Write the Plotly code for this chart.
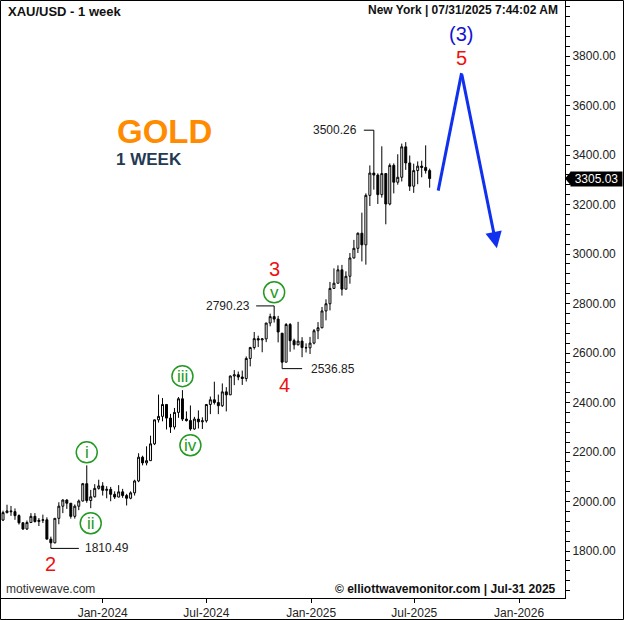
import plotly.graph_objects as go
import pandas as pd

# ---------------- data ----------------
first_week = "2023-07-10"
opens = [1925, 1955, 1962, 1959, 1943, 1914, 1889, 1915, 1940, 1919, 1924, 1926, 1848, 1833, 1932, 1981, 2006, 1993, 1940, 1981, 2002, 2072, 2004, 2019, 2053,
         2063, 2045, 2049, 2029, 2018, 2039, 2024, 2013, 2035, 2083, 2179, 2156, 2165, 2233, 2330, 2344, 2392, 2337, 2301, 2360, 2415, 2333, 2327, 2293, 2333, 2322, 2326,
         2392, 2411, 2400, 2387, 2443, 2431, 2507, 2512, 2503, 2497, 2578, 2622, 2658, 2653, 2657, 2721, 2747, 2737, 2680, 2563, 2715, 2650, 2633, 2648, 2622, 2621,
         2640, 2690, 2702, 2770, 2799, 2861, 2882, 2936, 2858, 2910, 2984, 3023, 3084, 3037, 3237, 3327, 3319, 3240, 3325, 3202, 3358, 3290, 3310, 3433, 3368, 3274,
         3337, 3355, 3350, 3337]
highs = [1963, 1987, 1982, 1972, 1948, 1916, 1923, 1953, 1953, 1933, 1947, 1936, 1858, 1933, 1997, 2009, 2009, 1993, 1988, 2008, 2075, 2146, 2047, 2070, 2088,
         2078, 2062, 2059, 2041, 2066, 2051, 2031, 2041, 2088, 2195, 2185, 2223, 2266, 2331, 2432, 2418, 2392, 2354, 2378, 2422, 2450, 2364, 2388, 2342, 2368, 2340,
         2393, 2424, 2484, 2432, 2477, 2462, 2509, 2531, 2525, 2529, 2586, 2625, 2685, 2670, 2660, 2722, 2759, 2790.23, 2750, 2681, 2721, 2721, 2658, 2726, 2664, 2639, 2665,
         2697, 2725, 2786, 2817, 2887, 2942, 2954, 2956, 2930, 3004, 3057, 3087, 3167, 3245, 3358, 3500.26, 3326, 3435, 3326, 3366, 3366, 3403, 3446, 3452, 3398, 3365,
         3374, 3377, 3439, 3345]
lows = [1921, 1952, 1942, 1926, 1907, 1885, 1885, 1913, 1915, 1901, 1913, 1846, 1810.49, 1831, 1908, 1953, 1970, 1931, 1931, 1965, 2000, 1995, 1973, 2016, 2048,
        2024, 2013, 2001, 2010, 2017, 2015, 1984, 2009, 2024, 2078, 2146, 2146, 2164, 2228, 2319, 2324, 2291, 2277, 2291, 2338, 2325, 2323, 2286, 2290, 2295, 2293,
        2319, 2353, 2392, 2353, 2382, 2364, 2430, 2470, 2490, 2471, 2485, 2546, 2614, 2624, 2603, 2644, 2708, 2723, 2643, 2536.85, 2563, 2605, 2614, 2631, 2583, 2602, 2596,
        2635, 2656, 2700, 2732, 2772, 2860, 2881, 2832, 2857, 2880, 2982, 3004, 2970, 2957, 3194, 3260, 3202, 3228, 3120, 3197, 3245, 3280, 3293, 3340, 3255, 3247,
        3282, 3310, 3325, 3268]
closes = [1955, 1962, 1959, 1943, 1914, 1889, 1915, 1940, 1919, 1924, 1926, 1848, 1833, 1932, 1981, 2006, 1993, 1940, 1981, 2002, 2072, 2004, 2019, 2053, 2063,
          2045, 2049, 2029, 2018, 2039, 2024, 2013, 2035, 2083, 2179, 2156, 2165, 2233, 2330, 2344, 2392, 2337, 2301, 2360, 2415, 2333, 2327, 2293, 2333, 2322, 2326,
          2392, 2411, 2400, 2387, 2443, 2431, 2507, 2512, 2503, 2497, 2578, 2622, 2658, 2653, 2657, 2721, 2747, 2737, 2685, 2563, 2715, 2650, 2633, 2648, 2622, 2621, 2640,
          2690, 2702, 2770, 2799, 2861, 2882, 2936, 2858, 2910, 2984, 3023, 3084, 3037, 3237, 3327, 3319, 3240, 3325, 3202, 3358, 3290, 3310, 3433, 3368, 3274, 3337,
          3355, 3350, 3337, 3305.03]
dates = pd.date_range(first_week, periods=len(closes), freq="7D")

# Elliott wave pivots (date, price)
wave_dates = ["2023-10-02", "2023-12-04", "2023-12-11", "2024-05-20", "2024-06-03", "2024-10-28", "2024-11-11"]
wave_prices = [1810.49, 2146, 1973, 2450, 2286, 2790.23, 2536.85]

# projected path
fc_dates = ["2025-08-12", "2025-09-22", "2025-11-23"]
fc_prices = [3256, 3731, 3023]

# swing price labels
swing_dates = ["2023-10-02", "2024-10-28", "2024-11-11", "2025-04-21"]
swing_prices = [1810.49, 2790.23, 2536.85, 3500.26]

# ---------------- styles ----------------
FONT = "Liberation Sans, Arial, sans-serif"
RED = "#ee1111"
GREEN = "#229922"
BLUE = "#1030f0"
BLUE_TXT = "#1212d8"
PW, PH = 565.0, 598.0  # plot area pixels


def px(xp):
    return xp / PW


def py(yp):
    return (PH - yp) / PH


fig = go.Figure()
fig.add_trace(go.Candlestick(
    x=dates, open=opens, high=highs, low=lows, close=closes,
    increasing=dict(line=dict(color="black", width=1), fillcolor="white"),
    decreasing=dict(line=dict(color="black", width=1), fillcolor="black"),
    whiskerwidth=0, showlegend=False, hoverinfo="skip"))

fig.add_trace(go.Scatter(x=fc_dates[:2], y=fc_prices[:2], mode="lines",
                         line=dict(color=BLUE, width=3), showlegend=False, hoverinfo="skip"))

shapes = []
annotations = []

# arrowhead segment
annotations.append(dict(x=fc_dates[2], y=fc_prices[2], ax=fc_dates[1], ay=fc_prices[1],
                        xref="x", yref="y", axref="x", ayref="y", text="", showarrow=True,
                        arrowhead=2, arrowsize=1.1, arrowwidth=3, arrowcolor=BLUE, standoff=0, startstandoff=0))

# red / blue wave labels: (text, date, price, dx, dy, color)
label_specs = [
    ("2", wave_dates[0], wave_prices[0], 0, -16, RED),
    ("3", wave_dates[5], wave_prices[5], 0, 37, RED),
    ("4", wave_dates[6], wave_prices[6], 2, -16.5, RED),
    ("5", fc_dates[1], fc_prices[1], 0, 15, RED),
    ("(3)", fc_dates[1], fc_prices[1], -1, 39, BLUE_TXT),
]
for t, d, p, dx, dy, c in label_specs:
    annotations.append(dict(x=d, y=p, xref="x", yref="y", text=t, showarrow=False,
                            xshift=dx, yshift=dy, font=dict(family=FONT, size=20, color=c)))

# green circled sub-waves
circ_specs = [
    ("i", 1, 0, 13),
    ("ii", 2, 0, -15),
    ("iii", 3, 0, 14),
    ("iv", 4, 0, -14.5),
    ("v", 5, 0, 13.6),
]
R = 10.5
for t, i, dx, dy in circ_specs:
    shapes.append(dict(type="circle", xref="x", yref="y", xsizemode="pixel", ysizemode="pixel",
                       xanchor=wave_dates[i], yanchor=wave_prices[i],
                       x0=dx - R, x1=dx + R, y0=dy - R, y1=dy + R,
                       line=dict(color=GREEN, width=1.5), fillcolor="white", layer="above"))
    annotations.append(dict(x=wave_dates[i], y=wave_prices[i], xref="x", yref="y", text=t,
                            showarrow=False, xshift=dx, yshift=dy,
                            font=dict(family=FONT, size=17, color=GREEN)))

# swing price labels with connector lines: (line x0, x1, text shift, anchor)
swing_style = [(0, 28, 32, "left"), (-18, 0, -22, "right"), (0, 20, 27, "left"), (-10, 0, -15, "right")]
for d, p, (x0, x1, sh, anc) in zip(swing_dates, swing_prices, swing_style):
    shapes.append(dict(type="line", xref="x", yref="y", xsizemode="pixel", xanchor=d,
                       x0=x0, x1=x1, y0=p, y1=p, line=dict(color="black", width=1)))
    annotations.append(dict(x=d, y=p, xref="x", yref="y", text=f"{p:.2f}", showarrow=False,
                            xanchor=anc, xshift=sh, font=dict(family=FONT, size=12, color="#222")))

# GOLD / 1 WEEK
annotations.append(dict(xref="paper", yref="paper", x=px(115), y=py(132), xanchor="left", yanchor="middle",
                        text="<b>GOLD</b>", showarrow=False, font=dict(family=FONT, size=33, color="#ff8c00")))
annotations.append(dict(xref="paper", yref="paper", x=px(114), y=py(159), xanchor="left", yanchor="middle",
                        text="<b>1 WEEK</b>", showarrow=False, font=dict(family=FONT, size=17, color="#243a52")))

# header / footer
annotations.append(dict(xref="paper", yref="paper", x=px(6), y=py(12), xanchor="left", yanchor="middle",
                        text="<b>XAU/USD - 1 week</b>", showarrow=False, font=dict(family=FONT, size=13, color="#111")))
annotations.append(dict(xref="paper", yref="paper", x=px(560), y=py(10), xanchor="right", yanchor="middle",
                        text="<b>New York | 07/31/2025 7:44:02 AM</b>", showarrow=False,
                        font=dict(family=FONT, size=12, color="#111")))
annotations.append(dict(xref="paper", yref="paper", x=px(4), y=py(589), xanchor="left", yanchor="middle",
                        text="motivewave.com", showarrow=False, font=dict(family=FONT, size=12, color="#333")))
annotations.append(dict(xref="paper", yref="paper", x=px(558), y=py(589), xanchor="right", yanchor="middle",
                        text="<b>© elliottwavemonitor.com | Jul-31 2025</b>", showarrow=False,
                        font=dict(family=FONT, size=12, color="#111")))

# last price tag
annotations.append(dict(xref="paper", yref="y", x=px(570), y=closes[-1], xanchor="left", yanchor="middle",
                        text=f"{closes[-1]:.2f}", showarrow=False, bgcolor="black", width=51, height=14,
                        borderpad=0, font=dict(family=FONT, size=12, color="white")))
shapes.append(dict(type="path", xref="paper", yref="y", xsizemode="pixel", ysizemode="pixel",
                   xanchor=1.0, yanchor=closes[-1], path="M 0 0 L 6 7 L 6 -7 Z",
                   fillcolor="black", line=dict(width=0)))

# outer frame
shapes.append(dict(type="rect", xref="paper", yref="paper", x0=px(0.5), x1=px(623.5), y0=py(619.5), y1=py(0.5),
                   line=dict(color="black", width=1), fillcolor="rgba(0,0,0,0)", layer="above"))

fig.update_layout(
    width=624, height=620, margin=dict(l=0, r=59, t=0, b=22),
    paper_bgcolor="white", plot_bgcolor="white", showlegend=False, hovermode=False,
    shapes=shapes, annotations=annotations,
    xaxis=dict(type="date", range=["2023-07-04 16:48", "2026-03-22 14:24"], rangeslider=dict(visible=False),
               showgrid=False, zeroline=False, showline=True, linecolor="black", linewidth=1,
               ticks="outside", ticklen=4, tickcolor="black", tickformat="%b-%Y", dtick="M6", tick0="2024-01-01",
               tickfont=dict(family=FONT, size=12, color="#222")),
    yaxis=dict(side="right", range=[1610.1, 4026.3], showgrid=False, zeroline=False, showline=True,
               linecolor="black", linewidth=1, ticks="outside", ticklen=4, tickcolor="black",
               dtick=200, tick0=0, tickformat=".2f",
               minor=dict(dtick=40, ticks="outside", ticklen=4, tickcolor="black", showgrid=False),
               tickfont=dict(family=FONT, size=12, color="#222")),
)

fig.write_html("out.html")
